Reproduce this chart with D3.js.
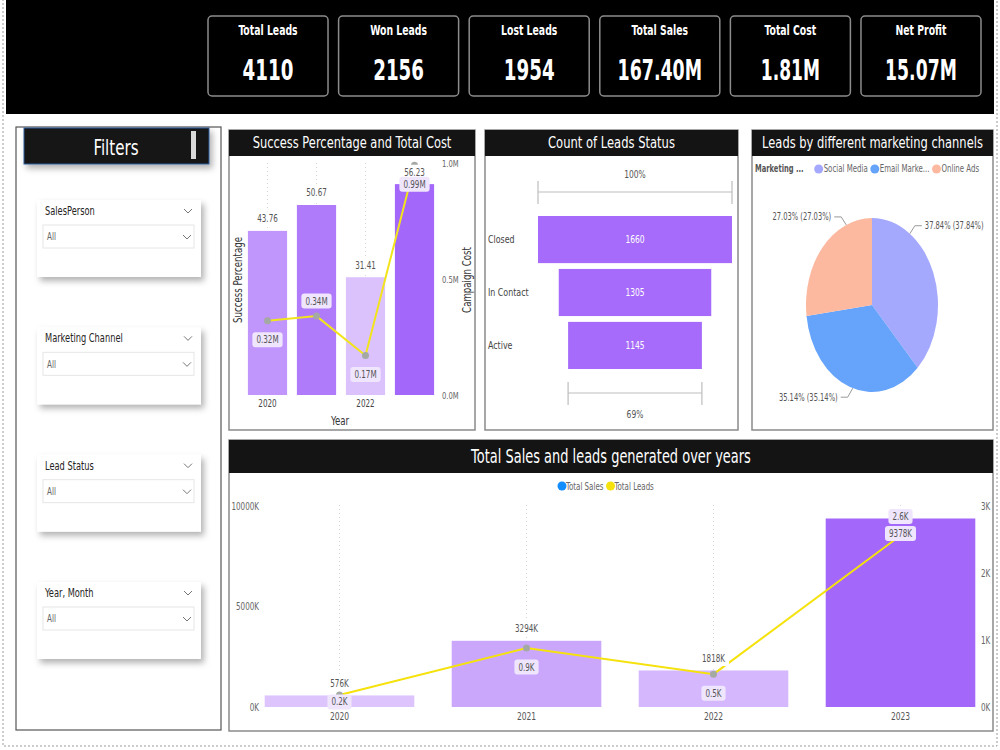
<!DOCTYPE html>
<html>
<head>
<meta charset="utf-8">
<script src="https://cdn.jsdelivr.net/npm/d3@7"></script>
<style>
body{margin:0;background:#fff;}
svg{display:block;}
text{font-family:"Liberation Sans Narrow","DejaVu Sans Condensed","Noto Sans",sans-serif;}
.titre{font-family:"Comic Sans MS","DejaVu Sans",sans-serif;}
</style>
</head>
<body>
<svg class="dashboard" width="1000" height="750"></svg>
<script>

//DONNEES-------------------------------------------------
//-------------------------------------------------------

let kpiLabels = ["Total Leads", "Won Leads", "Lost Leads", "Total Sales", "Total Cost", "Net Profit"];
let kpiValues = ["4110", "2156", "1954", "167.40M", "1.81M", "15.07M"];

let filterNames = ["SalesPerson", "Marketing Channel", "Lead Status", "Year, Month"];

let years = [2020, 2021, 2022, 2023];
let successPct = [43.76, 50.67, 31.41, 56.23];
let campaignCost = [0.32, 0.34, 0.17, 0.99];   // en millions

let funnelStages = ["Closed", "In Contact", "Active"];
let funnelCounts = [1660, 1305, 1145];

let channels = ["Social Media", "Email Marketing", "Online Ads"];
let channelShare = [37.84, 35.14, 27.03];

let salesK = [576, 3294, 1818, 9378];
let leadsCount = [180, 880, 490, 2560];


//SVG-----------------------------------------------------
//-------------------------------------------------------

let svg = d3.select(".dashboard");

//Resserre un texte horizontalement (pas de police étroite installée)
//k : facteur, ou largeur cible si cible = true
let serrer = function(sel, k, cible) {
  let l = 0;
  sel.each(function() {
    let nat = this.getComputedTextLength();
    let f = cible ? k / nat : k;
    let x = +this.getAttribute("x") || 0;
    let tr = this.getAttribute("transform") || "";
    d3.select(this)
        .attr("data-serre", 1)
        .attr("transform", tr + " translate(" + x + ",0) scale(" + f + ",1) translate(" + (-x) + ",0)");
    l = nat * f;
  });
  return l;
};

let defs = svg.append("defs");
defs.append("filter")
    .attr("id", "ombre")
    .attr("x", "-20%").attr("y", "-20%")
    .attr("width", "150%").attr("height", "170%")
  .append("feDropShadow")
    .attr("dx", 3).attr("dy", 4)
    .attr("stdDeviation", 3)
    .attr("flood-color", "#000")
    .attr("flood-opacity", 0.3);

//Bordure pointillée de la page
svg.append("rect")
    .attr("x", 3).attr("y", -5)
    .attr("width", 994).attr("height", 751)
    .attr("fill", "none")
    .attr("stroke", "#9a9a9a")
    .attr("stroke-dasharray", "2,2");

//Bandeau noir
svg.append("rect")
    .attr("x", 6).attr("y", 0)
    .attr("width", 988).attr("height", 114)
    .attr("fill", "#000");


//KPI-----------------------------------------------------
//-------------------------------------------------------

let xKpi = d3.scaleBand().domain(kpiLabels).range([208, 981]).paddingInner(0.081);

//largeur approximative des chiffres condensés
let largeurValeur = function(s) {
  let l = 0;
  for (let c of s) {
    l += c === "." ? 5 : (c === "M" ? 16 : 12.7);
  }
  return l;
};

let cartes = svg.selectAll(".kpi")
  .data(kpiLabels)
  .enter().append("g")
    .attr("class", "kpi")
    .attr("transform", function(d) { return "translate(" + xKpi(d) + ",16)"; });

cartes.append("rect")
    .attr("width", xKpi.bandwidth())
    .attr("height", 80)
    .attr("rx", 4)
    .attr("fill", "#000")
    .attr("stroke", "#8c8c8c")
    .attr("stroke-width", 1.5);

let kpiTitres = cartes.append("text")
    .attr("x", xKpi.bandwidth() / 2)
    .attr("y", 14)
    .attr("dy", "0.35em")
    .attr("text-anchor", "middle")
    .attr("fill", "#fff")
    .attr("font-size", 14)
    .attr("font-weight", "bold")
    .text(function(d) { return d; });
serrer(kpiTitres, 0.74);

cartes.append("text")
    .attr("x", xKpi.bandwidth() / 2)
    .attr("y", 54)
    .attr("dy", "0.35em")
    .attr("text-anchor", "middle")
    .attr("fill", "#fff")
    .attr("font-size", 29)
    .attr("font-weight", "bold")
    .text(function(d, i) { return kpiValues[i]; })
    .each(function(d, i) { serrer(d3.select(this), largeurValeur(kpiValues[i]), true); });


//FILTRES-------------------------------------------------
//-------------------------------------------------------

svg.append("rect")
    .attr("x", 16).attr("y", 127)
    .attr("width", 205).attr("height", 603)
    .attr("fill", "#fff")
    .attr("stroke", "#555")
    .attr("stroke-width", 1.2);

svg.append("rect")
    .attr("x", 24).attr("y", 128)
    .attr("width", 185).attr("height", 36)
    .attr("fill", "#161616")
    .attr("stroke", "#2d5c9a")
    .attr("stroke-width", 1)
    .attr("filter", "url(#ombre)");

serrer(svg.append("text")
    .attr("x", 116).attr("y", 148)
    .attr("dy", "0.35em")
    .attr("text-anchor", "middle")
    .attr("fill", "#fff")
    .attr("font-size", 21)
    .text("Filters"), 0.8);

svg.append("rect")
    .attr("x", 191).attr("y", 131)
    .attr("width", 5).attr("height", 28)
    .attr("fill", "#d9d9d9");

let chevron = function(g, x, y) {
  g.append("path")
      .attr("d", "M" + (x - 4) + "," + (y - 2) + "L" + x + "," + (y + 2) + "L" + (x + 4) + "," + (y - 2))
      .attr("fill", "none")
      .attr("stroke", "#777")
      .attr("stroke-width", 1);
};

let yFiltre = d3.scalePoint().domain(filterNames).range([200, 582]);

filterNames.forEach(function(nom) {
  let g = svg.append("g").attr("transform", "translate(37," + yFiltre(nom) + ")");
  g.append("rect")
      .attr("width", 164).attr("height", 77)
      .attr("fill", "#fff")
      .attr("filter", "url(#ombre)");
  g.append("text")
      .attr("x", 8).attr("y", 11)
      .attr("dy", "0.35em")
      .attr("font-size", 11.5)
      .attr("fill", "#252423")
      .text(nom);
  chevron(g, 151, 11);
  g.append("rect")
      .attr("x", 6).attr("y", 25)
      .attr("width", 151).attr("height", 23)
      .attr("fill", "#fff")
      .attr("stroke", "#e6e6e6");
  g.append("text")
      .attr("x", 10).attr("y", 37)
      .attr("dy", "0.35em")
      .attr("font-size", 10)
      .attr("fill", "#666")
      .text("All");
  chevron(g, 150, 37);
});


//PANNEAUX------------------------------------------------
//-------------------------------------------------------

let panneau = function(x, y, w, h, hTitre, titre, taille, largeur) {
  svg.append("rect")
      .attr("x", x).attr("y", y)
      .attr("width", w).attr("height", h)
      .attr("fill", "#fff")
      .attr("stroke", "#8a8a8a")
      .attr("stroke-width", 1.5);
  svg.append("rect")
      .attr("x", x).attr("y", y)
      .attr("width", w).attr("height", hTitre)
      .attr("fill", "#141414");
  serrer(svg.append("text")
      .attr("class", "titre")
      .attr("x", x + w / 2).attr("y", y + hTitre / 2)
      .attr("dy", "0.35em")
      .attr("text-anchor", "middle")
      .attr("fill", "#fff")
      .attr("font-size", taille)
      .text(titre), largeur, true);
};

//Etiquette de valeur, avec ou sans fond
let etiquette = function(x, y, txt, fond) {
  let g = svg.append("g");
  let t = g.append("text")
      .attr("x", x).attr("y", y)
      .attr("dy", "0.35em")
      .attr("text-anchor", "middle")
      .attr("font-size", 10)
      .attr("fill", "#555")
      .text(txt);
  let l = serrer(t, 0.8);
  g.insert("rect", "text")
      .attr("x", x - l / 2 - 4).attr("y", y - 7.5)
      .attr("width", l + 8).attr("height", 15)
      .attr("rx", 3)
      .attr("fill", fond ? "#efe6fd" : "#fff");
};

panneau(229, 130, 246, 300, 26, "Success Percentage and Total Cost", 15, 199);
panneau(485, 130, 253, 300, 26, "Count of Leads Status", 15, 127);
panneau(752, 130, 241, 300, 26, "Leads by different marketing channels", 15, 221);
panneau(229, 440, 764, 291, 33, "Total Sales and leads generated over years", 19, 280);


//SUCCES ET COUT------------------------------------------
//-------------------------------------------------------

let xSucces = d3.scaleBand().domain(years).range([243, 439]).paddingInner(0.2).paddingOuter(0.1);
let ySucces = d3.scaleLinear().domain([0, 60]).range([395, 170]);
let yCout = d3.scaleLinear().domain([0, 1]).range([395, 163]);
let couleurSucces = d3.scaleLinear().domain(d3.extent(successPct)).range(["#dcc2fd", "#a367fa"]);
let centreS = function(d) { return xSucces(d) + xSucces.bandwidth() / 2; };

svg.append("g").selectAll("line")
  .data(years)
  .enter().append("line")
    .attr("x1", centreS).attr("x2", centreS)
    .attr("y1", 163).attr("y2", 395)
    .attr("stroke", "#d6d6d6")
    .attr("stroke-dasharray", "1,3");

svg.append("g").selectAll("rect")
  .data(years)
  .enter().append("rect")
    .attr("x", function(d) { return xSucces(d); })
    .attr("y", function(d, i) { return ySucces(successPct[i]); })
    .attr("width", xSucces.bandwidth())
    .attr("height", function(d, i) { return 395 - ySucces(successPct[i]); })
    .attr("fill", function(d, i) { return couleurSucces(successPct[i]); });

//Axe droit
let axeCout = svg.append("g")
    .attr("transform", "translate(439,0)")
    .call(d3.axisRight(yCout).tickValues([0, 0.5, 1]).tickSize(0).tickPadding(3)
      .tickFormat(function(d) { return d3.format(".1f")(d) + "M"; }));
axeCout.select(".domain").remove();
axeCout.selectAll("text").attr("fill", "#666").attr("font-size", 9.5).style("font-family", null);

//Axe x
let axeAnnee = svg.append("g")
    .attr("transform", "translate(0,397)")
    .call(d3.axisBottom(xSucces).tickSize(0).tickPadding(3)
      .tickFormat(function(d, i) { return i % 2 === 0 ? d : ""; }));
axeAnnee.select(".domain").remove();
axeAnnee.selectAll("text").attr("fill", "#444").attr("font-size", 10).style("font-family", null);

svg.append("text")
    .attr("x", 340).attr("y", 421)
    .attr("dy", "0.35em")
    .attr("text-anchor", "middle")
    .attr("font-size", 12)
    .attr("fill", "#333")
    .text("Year");

svg.append("text")
    .attr("transform", "translate(238,280) rotate(-90)")
    .attr("dy", "0.35em")
    .attr("text-anchor", "middle")
    .attr("font-size", 12)
    .attr("fill", "#333")
    .text("Success Percentage");

svg.append("text")
    .attr("transform", "translate(467,280) rotate(-90)")
    .attr("dy", "0.35em")
    .attr("text-anchor", "middle")
    .attr("font-size", 12)
    .attr("fill", "#333")
    .text("Campaign Cost");

//Ligne du coût
let ligneCout = d3.line()
    .x(function(d, i) { return centreS(years[i]); })
    .y(function(d) { return yCout(d); });

svg.append("path")
    .datum(campaignCost)
    .attr("d", ligneCout)
    .attr("fill", "none")
    .attr("stroke", "#f2e41c")
    .attr("stroke-width", 2);

svg.append("g").selectAll("circle")
  .data(campaignCost)
  .enter().append("circle")
    .attr("cx", function(d, i) { return centreS(years[i]); })
    .attr("cy", function(d) { return yCout(d); })
    .attr("r", 3.5)
    .attr("fill", "#a4a9a4");

years.forEach(function(a, i) {
  etiquette(centreS(a), ySucces(successPct[i]) - 12, d3.format(".2f")(successPct[i]), false);
  //étiquette au-dessus quand la ligne redescend ensuite
  let dessus = i < years.length - 1 && campaignCost[i + 1] < campaignCost[i];
  let yc = yCout(campaignCost[i]) + (dessus ? -15 : 19);
  etiquette(centreS(a), yc, d3.format(".2f")(campaignCost[i]) + "M", true);
});


//ENTONNOIR-----------------------------------------------
//-------------------------------------------------------

let yEnt = d3.scaleBand().domain(funnelStages).range([216, 369]).paddingInner(0.11);
let wEnt = d3.scaleLinear().domain([0, d3.max(funnelCounts)]).range([0, 194]);
let cx = 635;

svg.append("g").selectAll("rect")
  .data(funnelStages)
  .enter().append("rect")
    .attr("x", function(d, i) { return cx - wEnt(funnelCounts[i]) / 2; })
    .attr("y", function(d) { return yEnt(d); })
    .attr("width", function(d, i) { return wEnt(funnelCounts[i]); })
    .attr("height", yEnt.bandwidth())
    .attr("fill", "#a66bfa");

funnelStages.forEach(function(s, i) {
  let ym = yEnt(s) + yEnt.bandwidth() / 2;
  svg.append("text")
      .attr("x", cx).attr("y", ym)
      .attr("dy", "0.35em")
      .attr("text-anchor", "middle")
      .attr("font-size", 10.5)
      .attr("fill", "#fff")
      .text(funnelCounts[i]);
  svg.append("text")
      .attr("x", 488).attr("y", ym)
      .attr("dy", "0.35em")
      .attr("font-size", 11)
      .attr("fill", "#444")
      .text(s);
});

let crochet = function(w, y, yTexte, txt) {
  let g = svg.append("g").attr("stroke", "#bdbdbd").attr("stroke-width", 1.2);
  g.append("line").attr("x1", cx - w / 2).attr("x2", cx + w / 2).attr("y1", y).attr("y2", y);
  g.append("line").attr("x1", cx - w / 2).attr("x2", cx - w / 2).attr("y1", y - 11).attr("y2", y + 12);
  g.append("line").attr("x1", cx + w / 2).attr("x2", cx + w / 2).attr("y1", y - 11).attr("y2", y + 12);
  svg.append("text")
      .attr("x", cx).attr("y", yTexte)
      .attr("dy", "0.35em")
      .attr("text-anchor", "middle")
      .attr("font-size", 10.5)
      .attr("fill", "#555")
      .text(txt);
};

let dernier = funnelCounts[funnelCounts.length - 1];
crochet(wEnt(funnelCounts[0]), 192, 174, "100%");
crochet(wEnt(dernier), 393, 414, Math.round(dernier / funnelCounts[0] * 100) + "%");


//CAMEMBERT-----------------------------------------------
//-------------------------------------------------------

let couleurCanal = d3.scaleOrdinal().domain(channels).range(["#a5a9fd", "#66a3fb", "#fcb9a0"]);

//Légende
let leg = svg.append("g");
let legTitre = leg.append("text")
    .attr("x", 755).attr("y", 169)
    .attr("dy", "0.35em")
    .attr("font-size", 10)
    .attr("font-weight", "bold")
    .attr("fill", "#555")
    .text("Marketing ...");
let xLeg = 755 + serrer(legTitre, 0.75) + 15;
channels.forEach(function(c) {
  leg.append("circle").attr("cx", xLeg).attr("cy", 169).attr("r", 4.5).attr("fill", couleurCanal(c));
  let t = leg.append("text")
      .attr("x", xLeg + 5).attr("y", 169)
      .attr("dy", "0.35em")
      .attr("font-size", 10)
      .attr("fill", "#666")
      .text(c.length > 12 ? c.slice(0, 11) + "..." : c);
  xLeg += serrer(t, 0.78) + 12;
});

let rx = 66, ry = 87;
let tranches = d3.pie().sort(null).value(function(d) { return d; })(channelShare);
let arc = d3.arc().innerRadius(0).outerRadius(ry);

svg.append("g")
    .attr("transform", "translate(872,305) scale(" + (rx / ry) + ",1)")
  .selectAll("path")
  .data(tranches)
  .enter().append("path")
    .attr("d", arc)
    .attr("fill", function(d, i) { return couleurCanal(channels[i]); });

//angles des étiquettes (degrés, sens horaire depuis midi)
let angleEtiq = [35, 197, 337];
tranches.forEach(function(t, i) {
  let a = angleEtiq[i] * Math.PI / 180;
  let px = 872 + rx * Math.sin(a), py = 305 - ry * Math.cos(a);
  let sx = Math.sin(a) > 0 ? 1 : -1;
  let ey = py + (Math.cos(a) > 0 ? -8 : 9);
  svg.append("polyline")
      .attr("points", [px, py, px + 5 * sx, ey, px + 12 * sx, ey].join(","))
      .attr("fill", "none")
      .attr("stroke", "#999");
  let p = d3.format(".2f")(channelShare[i]) + "%";
  serrer(svg.append("text")
      .attr("x", px + 15 * sx).attr("y", ey)
      .attr("dy", "0.35em")
      .attr("text-anchor", sx > 0 ? "start" : "end")
      .attr("font-size", 10)
      .attr("fill", "#555")
      .text(p + " (" + p + ")"), 0.75);
});


//VENTES ET LEADS-----------------------------------------
//-------------------------------------------------------

let xVentes = d3.scaleBand().domain(years).range([246, 994]).paddingInner(0.2).paddingOuter(0.1);
let yVentes = d3.scaleLinear().domain([0, 10000]).range([707, 506]);
let yLeads = d3.scaleLinear().domain([0, 3000]).range([707, 506]);
let couleurVentes = d3.scaleLinear().domain(d3.extent(salesK)).range(["#ddc4fd", "#a367fa"]);
let centreV = function(d) { return xVentes(d) + xVentes.bandwidth() / 2; };

//Légende
let leg2 = svg.append("g");
let xl = 562;
[["Total Sales", "#118dff"], ["Total Leads", "#f5e20c"]].forEach(function(e) {
  leg2.append("circle").attr("cx", xl).attr("cy", 486).attr("r", 4.5).attr("fill", e[1]);
  let t = leg2.append("text")
      .attr("x", xl + 4).attr("y", 486)
      .attr("dy", "0.35em")
      .attr("font-size", 10.5)
      .attr("fill", "#666")
      .text(e[0]);
  xl += serrer(t, 0.75) + 11;
});

svg.append("g").selectAll("line")
  .data(years)
  .enter().append("line")
    .attr("x1", centreV).attr("x2", centreV)
    .attr("y1", 505).attr("y2", 707)
    .attr("stroke", "#d6d6d6")
    .attr("stroke-dasharray", "1,3");

svg.append("g").selectAll("rect")
  .data(years)
  .enter().append("rect")
    .attr("x", function(d) { return xVentes(d); })
    .attr("y", function(d, i) { return yVentes(salesK[i]); })
    .attr("width", xVentes.bandwidth())
    .attr("height", function(d, i) { return 707 - yVentes(salesK[i]); })
    .attr("fill", function(d, i) { return couleurVentes(salesK[i]); });

let axeG = svg.append("g")
    .attr("transform", "translate(259,0)")
    .call(d3.axisLeft(yVentes).tickValues([0, 5000, 10000]).tickSize(0).tickPadding(0)
      .tickFormat(function(d) { return d + "K"; }));
axeG.select(".domain").remove();
axeG.selectAll("text").attr("fill", "#666").attr("font-size", 10).style("font-family", null);

let axeD = svg.append("g")
    .attr("transform", "translate(981,0)")
    .call(d3.axisRight(yLeads).tickValues([0, 1000, 2000, 3000]).tickSize(0).tickPadding(0)
      .tickFormat(function(d) { return d / 1000 + "K"; }));
axeD.select(".domain").remove();
axeD.selectAll("text").attr("fill", "#666").attr("font-size", 10).style("font-family", null);

let axeX = svg.append("g")
    .attr("transform", "translate(0,711)")
    .call(d3.axisBottom(xVentes).tickSize(0).tickPadding(2));
axeX.select(".domain").remove();
axeX.selectAll("text").attr("fill", "#555").attr("font-size", 10.5).style("font-family", null);

let ligneLeads = d3.line()
    .x(function(d, i) { return centreV(years[i]); })
    .y(function(d) { return yLeads(d); });

svg.append("path")
    .datum(leadsCount)
    .attr("d", ligneLeads)
    .attr("fill", "none")
    .attr("stroke", "#f5e20c")
    .attr("stroke-width", 2);

svg.append("g").selectAll("circle")
  .data(leadsCount)
  .enter().append("circle")
    .attr("cx", function(d, i) { return centreV(years[i]); })
    .attr("cy", function(d) { return yLeads(d); })
    .attr("r", 3.5)
    .attr("fill", "#a4a9a4");

years.forEach(function(a, i) {
  let haut = yVentes(salesK[i]);
  //trop près du haut : l'étiquette passe dans la barre
  let dedans = haut - 12 < 526;
  etiquette(centreV(a), dedans ? haut + 15 : haut - 12, salesK[i] + "K", dedans);
  let yl = yLeads(leadsCount[i]);
  let yEtiq = dedans ? yl - 19 : Math.min(yl + 19, 702);
  etiquette(centreV(a), yEtiq, d3.format(".1f")(leadsCount[i] / 1000) + "K", true);
});

//Tous les autres textes resserrés comme sur l'original
svg.selectAll("text").each(function() {
  if (!this.hasAttribute("data-serre")) serrer(d3.select(this), 0.8);
});

</script>
</body>
</html>
